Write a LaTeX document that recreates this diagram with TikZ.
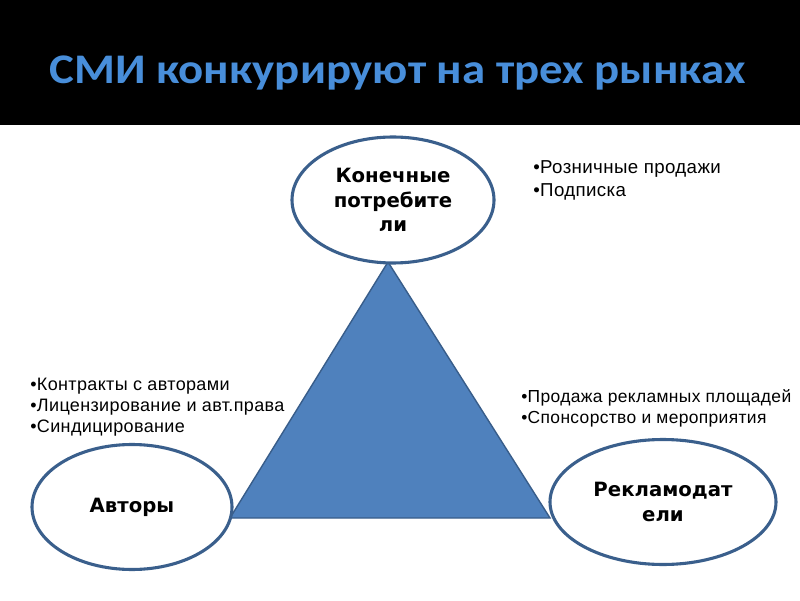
\documentclass[tikz,border=0pt]{standalone}
\usepackage{fontspec}
\setmainfont{Liberation Sans}
\newfontfamily\titlefont{Carlito}
\newfontfamily\boxfont{DejaVu Sans}
\newfontfamily\listfont[LetterSpace=2]{Liberation Sans}
\usepackage{tikz}
\usetikzlibrary{
    positioning,      % Required for relative placement
    shapes.geometric  % Required for ellipse nodes
}
\definecolor{titleblue}{RGB}{72,142,218}
\definecolor{trifill}{RGB}{79,129,189}
\definecolor{triline}{RGB}{56,93,138}
\definecolor{ringline}{RGB}{58,95,140}

\begin{document}
\begin{tikzpicture}[
        % Styles
        market/.style={ellipse, draw=ringline, line width=2.2pt, fill=white,
            inner sep=0pt, align=center, font=\boxfont\bfseries\fontsize{14}{17.5}\selectfont},
        bullets/.style={anchor=north west, inner sep=0pt, align=left},
        header/.style={fill=black},
        pyramid/.style={fill=trifill, draw=triline, line width=1pt}
    ]
    \useasboundingbox (0,0) rectangle (20,15);

    % --- Header band ---
    \fill[header] (0,11.875) rectangle (20,15);
    \node[anchor=base, xscale=1.11, text=titleblue, font=\titlefont\bfseries\fontsize{30}{36}\selectfont]
        (Title) at (9.94,12.9) {СМИ конкурируют на трех рынках};

    % --- Coordinates ---
    \coordinate (Apex) at (9.7,8.45);    % top of the triangle
    \coordinate (BaseL) at (5.75,2.05);  % left corner
    \coordinate (BaseR) at (13.75,2.05); % right corner

    % --- 1. Triangle (behind the ellipses) ---
    \draw[pyramid] (Apex) -- (BaseL) -- (BaseR) -- cycle;

    % --- 2. The three markets ---
    \node[market, minimum width=5.05cm, minimum height=3.15cm] (Consumers) at (9.825,10.0)
        {Конечные\\потребите\\ли};
    \node[market, minimum width=5.0cm, minimum height=3.125cm] (Authors) at (3.3,2.325)
        {Авторы};
    \node[market, minimum width=5.65cm, minimum height=3.125cm] (Advertisers) at (16.575,2.45)
        {Рекламодат\\ели};

    % --- 3. Revenue lists ---
    \node[bullets, font=\listfont\fontsize{13.3}{16.3}\selectfont] (ConsumerList) at (13.325,10.99)
        {•Розничные продажи\\•Подписка};
    \node[bullets, font=\listfont\fontsize{12.8}{15}\selectfont] (AuthorList) at (0.75,5.56)
        {•Контракты с авторами\\•Лицензирование и авт.права\\•Синдицирование};
    \node[bullets, font=\listfont\fontsize{12.4}{15}\selectfont] (AdvertiserList) at (13.025,5.26)
        {•Продажа рекламных площадей\\•Спонсорство и мероприятия};

\end{tikzpicture}
\end{document}
